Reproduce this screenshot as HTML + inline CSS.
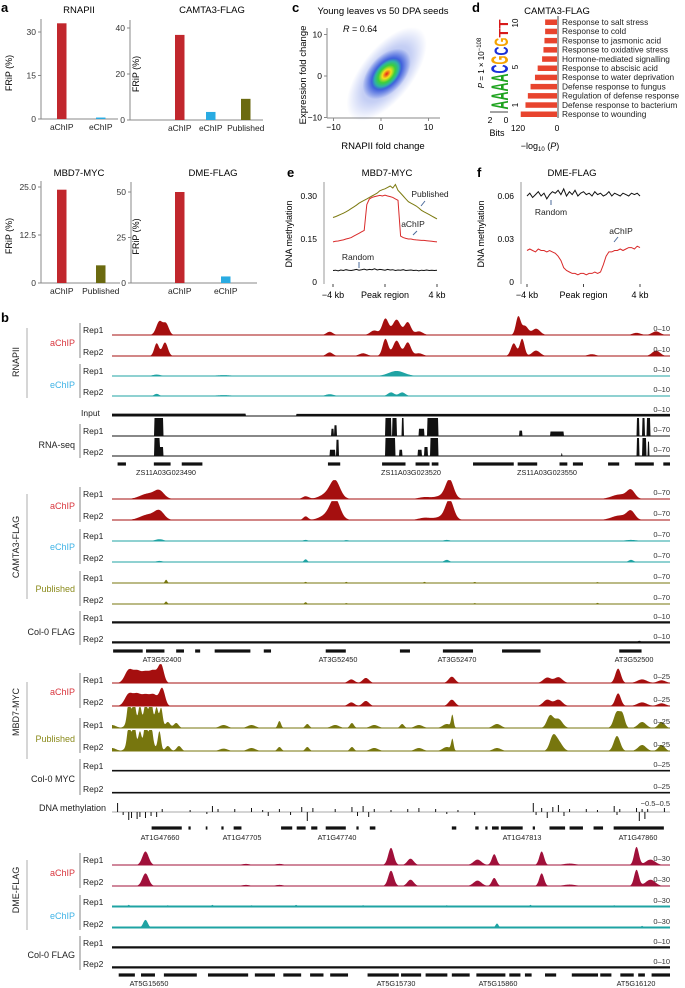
<!DOCTYPE html>
<html><head><meta charset="utf-8"><style>
html,body{margin:0;padding:0;background:#fff}
svg{display:block;font-family:"Liberation Sans",Arial,sans-serif}
</style></head><body>
<svg id="fig" width="685" height="988" viewBox="0 0 685 988" xmlns="http://www.w3.org/2000/svg">
<defs>
<radialGradient id="dens" cx="50%" cy="50%" r="50%">
<stop offset="0" stop-color="#e8201a"/><stop offset="0.18" stop-color="#f7e01b"/><stop offset="0.35" stop-color="#3ccf3c"/><stop offset="0.5" stop-color="#2fb1a8"/><stop offset="0.62" stop-color="#2a4fd8" stop-opacity="0.85"/><stop offset="1" stop-color="#2a4fd8" stop-opacity="0"/>
</radialGradient>
<radialGradient id="densOuter" cx="50%" cy="50%" r="50%">
<stop offset="0" stop-color="#2a4fd8" stop-opacity="0.7"/><stop offset="0.6" stop-color="#2a4fd8" stop-opacity="0.45"/><stop offset="1" stop-color="#2a4fd8" stop-opacity="0"/>
</radialGradient>
</defs>
<g font-weight="bold" font-size="13" fill="#000">
<text x="1" y="12">a</text>
<text x="292" y="12">c</text>
<text x="472" y="12">d</text>
<text x="287" y="177">e</text>
<text x="477" y="177">f</text>
<text x="1" y="322">b</text>
</g>
<g id="panelA"></g>
<g id="panelC">
<text x="383" y="14" font-size="9.5" text-anchor="middle">Young leaves vs 50 DPA seeds</text>
<text x="343" y="32" font-size="9"><tspan font-style="italic">R</tspan> = 0.64</text>
<text x="383" y="149" font-size="9.5" text-anchor="middle">RNAPII fold change</text>
<text transform="translate(306,75) rotate(-90)" font-size="9.5" text-anchor="middle">Expression fold change</text>
</g>
<g id="panelD">
<text x="557" y="14" font-size="9.5" text-anchor="middle">CAMTA3-FLAG</text>
<text transform="translate(484,63) rotate(-90)" font-size="8" text-anchor="middle"><tspan font-style="italic">P</tspan> = 1 × 10<tspan font-size="6" dy="-3">−108</tspan></text>
<text x="490" y="123" font-size="8.5" text-anchor="middle">2</text>
<text x="506" y="123" font-size="8.5" text-anchor="middle">0</text>
<text x="497" y="136" font-size="9" text-anchor="middle">Bits</text>
<text x="540" y="149" font-size="9" text-anchor="middle">−log<tspan font-size="6" dy="2">10</tspan><tspan dy="-2"> (</tspan><tspan font-style="italic">P</tspan>)</text>
</g>
<g id="panelE"></g>
<g id="panelF"></g>
<g id="panelB"></g>
</svg>
<script>
// ---------- DATA ----------
const barCatsRNAPII=["aChIP","eChIP"];const barValsRNAPII=[33,0.5];
const barCatsCAMTA=["aChIP","eChIP","Published"];const barValsCAMTA=[37,3.5,9.2];
const barCatsMBD7=["aChIP","Published"];const barValsMBD7=[24.3,4.6];
const barCatsDME=["aChIP","eChIP"];const barValsDME=[50,3.6];
const ticksRNAPII=[0,15,30];const ticksCAMTA=[0,20,40];const ticksMBD7=[0,12.5,25];const ticksDME=[0,25,50];
const tickLabMBD7=["0","12.5","25.0"];
const scatterTicks=[-10,0,10];
const goTerms=["Response to salt stress","Response to cold","Response to jasmonic acid","Response to oxidative stress","Hormone-mediated signalling","Response to abscisic acid","Response to water deprivation","Defense response to fungus","Regulation of defense response","Defense response to bacterium","Response to wounding"];
const goVals=[36.5,36.5,38.6,41.7,45.9,59.5,67.8,81.4,89.7,97,111.6];
const motifLetters=["A","A","A","A","C","G","C","G","T","T"];
const motifColors={A:"#1fa31f",C:"#1a2fd8",G:"#f5a300",T:"#d81a1a"};
const ePublished=[0.225,0.228,0.232,0.236,0.24,0.245,0.25,0.256,0.262,0.268,0.275,0.28,0.285,0.29,0.295,0.3,0.305,0.31,0.318,0.322,0.325,0.33,0.335,0.328,0.34,0.32,0.31,0.3,0.29,0.28,0.275,0.27,0.265,0.258,0.25,0.245,0.24,0.235,0.23,0.225,0.22];
const eAChIP=[0.14,0.142,0.143,0.145,0.147,0.15,0.152,0.155,0.16,0.165,0.17,0.175,0.18,0.27,0.29,0.295,0.298,0.3,0.302,0.3,0.303,0.3,0.298,0.295,0.29,0.285,0.16,0.155,0.152,0.15,0.15,0.148,0.147,0.146,0.145,0.145,0.144,0.143,0.142,0.141,0.14];
const eRandom=[0.04,0.041,0.039,0.042,0.04,0.043,0.041,0.04,0.042,0.044,0.041,0.043,0.045,0.042,0.044,0.043,0.046,0.042,0.044,0.043,0.041,0.044,0.042,0.043,0.04,0.042,0.041,0.043,0.04,0.041,0.042,0.04,0.041,0.039,0.041,0.04,0.042,0.04,0.041,0.04,0.041];
const fRandom=[0.06,0.062,0.059,0.061,0.063,0.06,0.062,0.058,0.061,0.063,0.062,0.064,0.061,0.065,0.06,0.063,0.061,0.064,0.06,0.062,0.063,0.061,0.062,0.06,0.063,0.061,0.062,0.06,0.061,0.063,0.06,0.062,0.061,0.06,0.062,0.061,0.06,0.062,0.061,0.062,0.06];
const fAChIP=[0.022,0.023,0.022,0.021,0.023,0.022,0.022,0.021,0.022,0.021,0.02,0.018,0.015,0.01,0.008,0.007,0.006,0.006,0.005,0.006,0.006,0.005,0.006,0.006,0.007,0.006,0.007,0.012,0.018,0.021,0.021,0.022,0.022,0.023,0.022,0.023,0.024,0.024,0.023,0.025,0.024];
const eTicks=[0,0.15,0.3];const eTickLab=["0","0.15","0.30"];
const fTicks=[0,0.03,0.06];const fTickLab=["0","0.03","0.06"];
const pkRnapA1=[[0.085,0.75,0.008],[0.097,0.6,0.007],[0.39,0.18,0.008],[0.47,0.25,0.01],[0.49,0.9,0.008],[0.51,0.85,0.01],[0.53,0.7,0.008],[0.55,0.2,0.01],[0.728,1,0.006],[0.74,0.5,0.008],[0.76,0.35,0.01],[0.94,0.12,0.01],[0.975,0.2,0.01]];
const pkRnapA2=[[0.08,0.7,0.006],[0.095,0.75,0.007],[0.39,0.2,0.008],[0.45,0.15,0.01],[0.49,0.95,0.007],[0.51,0.85,0.009],[0.53,0.75,0.008],[0.55,0.15,0.01],[0.72,0.7,0.007],[0.735,0.95,0.006],[0.76,0.3,0.01],[0.86,0.1,0.01],[0.975,0.3,0.01]];
const pkRnapE1=[[0.08,0.08,0.01],[0.51,0.28,0.02],[0.2,0.05,0.02]];
const pkRnapE2=[[0.08,0.12,0.006],[0.39,0.1,0.01],[0.5,0.2,0.008],[0.52,0.2,0.008],[0.2,0.05,0.02]];
const blkInput=[[0,0.24,0.13],[0.33,1,0.12]];
const blkRnaseq1=[[0.076,0.092,1],[0.393,0.397,0.4],[0.398,0.403,0.6],[0.49,0.5,1],[0.502,0.51,1],[0.519,0.523,1],[0.55,0.56,0.4],[0.565,0.585,1],[0.73,0.735,0.3],[0.785,0.81,0.25],[0.94,0.945,1],[0.95,0.955,1],[0.958,0.965,1]];
const blkRnaseq2=[[0.076,0.086,1],[0.086,0.092,0.5],[0.39,0.4,0.35],[0.402,0.406,0.9],[0.49,0.508,1],[0.515,0.52,0.35],[0.548,0.555,0.35],[0.56,0.566,0.5],[0.57,0.585,1],[0.805,0.807,0.15],[0.94,0.945,1],[0.95,0.957,1],[0.96,0.963,0.8]];
const genesRnap=[[0.01,0.025],[0.075,0.105],[0.125,0.162],[0.387,0.409],[0.484,0.526],[0.544,0.569],[0.573,0.585],[0.647,0.72],[0.727,0.762],[0.802,0.816],[0.826,0.844],[0.889,0.909],[0.937,0.971],[0.988,1]];
const pkCamA1=[[0.065,0.3,0.02],[0.085,0.4,0.012],[0.347,0.15,0.008],[0.39,0.35,0.02],[0.4,0.8,0.012],[0.56,0.1,0.015],[0.605,0.95,0.01],[0.595,0.2,0.02],[0.91,0.25,0.02],[0.93,0.45,0.01]];
const pkCamA2=[[0.065,0.3,0.02],[0.085,0.45,0.012],[0.347,0.2,0.006],[0.39,0.35,0.02],[0.4,0.95,0.012],[0.56,0.12,0.015],[0.605,1,0.01],[0.595,0.2,0.02],[0.91,0.25,0.02],[0.93,0.45,0.01]];
const pkCamE1=[[0.085,0.1,0.01],[0.347,0.06,0.006],[0.42,0.05,0.006],[0.6,0.06,0.008],[0.93,0.06,0.015]];
const pkCamE2=[[0.085,0.06,0.008],[0.347,0.15,0.004],[0.6,0.12,0.006],[0.93,0.12,0.006]];
const pkCamP1=[[0.097,0.18,0.003],[0.347,0.06,0.003],[0.42,0.06,0.003],[0.56,0.06,0.003],[0.65,0.06,0.003],[0.87,0.05,0.003]];
const pkCamP2=[[0.097,0.14,0.003],[0.347,0.1,0.003],[0.42,0.05,0.003],[0.65,0.05,0.003],[0.87,0.06,0.003]];
const blkCol=[[0,1,0.1]];
const pkCol1=[[0.07,0.06,0.01],[0.4,0.06,0.01],[0.93,0.08,0.01]];
const pkCol2=[[0.3,0.06,0.01],[0.45,0.06,0.01],[0.945,0.12,0.006]];
const genesCam=[[0.002,0.055],[0.061,0.094],[0.115,0.129],[0.149,0.158],[0.184,0.248],[0.272,0.285],[0.383,0.419],[0.516,0.534],[0.593,0.647],[0.699,0.768],[0.909,0.949]];
const pkMbdA1=[[0.03,0.7,0.01],[0.045,0.6,0.01],[0.06,0.55,0.01],[0.075,0.65,0.01],[0.088,0.95,0.007],[0.429,0.2,0.008],[0.455,0.28,0.008],[0.609,0.35,0.008],[0.78,0.3,0.01],[0.8,0.32,0.01],[0.907,0.8,0.007],[0.95,0.2,0.012],[0.985,0.15,0.01]];
const pkMbdA2=[[0.03,0.65,0.01],[0.045,0.6,0.01],[0.06,0.55,0.01],[0.075,0.6,0.01],[0.09,0.95,0.007],[0.429,0.2,0.008],[0.455,0.28,0.008],[0.609,0.35,0.008],[0.78,0.35,0.01],[0.8,0.35,0.01],[0.907,0.7,0.007],[0.95,0.2,0.012],[0.985,0.15,0.01]];
const pkMbdP1=[[0.035,0.6,0.01],[0.065,0.6,0.012],[0.03,0.9,0.004],[0.04,0.85,0.004],[0.05,0.95,0.004],[0.06,0.75,0.004],[0.07,0.95,0.004],[0.08,0.9,0.004],[0.088,0.98,0.004],[0.1,0.3,0.006],[0.115,0.25,0.006],[0.3,0.35,0.004],[0.35,0.2,0.005],[0.43,0.25,0.005],[0.52,0.2,0.005],[0.61,0.6,0.003],[0.6,0.2,0.01],[0.785,0.6,0.008],[0.8,0.45,0.01],[0.905,0.8,0.008],[0.915,0.6,0.006],[0.95,0.3,0.01],[0.985,0.3,0.008],[0.2,0.15,0.01],[0.25,0.15,0.01],[0.69,0.2,0.01],[0.55,0.15,0.01],[0.47,0.15,0.01],[0.4,0.15,0.01],[0.0,0.15,0.01]];
const pkMbdP2=[[0.035,0.6,0.01],[0.065,0.6,0.012],[0.03,0.85,0.004],[0.04,0.9,0.004],[0.05,0.8,0.004],[0.06,0.95,0.004],[0.07,0.85,0.004],[0.085,0.95,0.004],[0.1,0.25,0.006],[0.12,0.25,0.006],[0.3,0.2,0.005],[0.35,0.2,0.005],[0.43,0.2,0.005],[0.61,0.55,0.003],[0.6,0.2,0.01],[0.79,0.65,0.008],[0.8,0.45,0.01],[0.905,0.75,0.008],[0.95,0.3,0.01],[0.985,0.3,0.008],[0.2,0.12,0.01],[0.25,0.15,0.01],[0.69,0.15,0.01],[0.55,0.15,0.01],[0.47,0.15,0.01],[0.0,0.15,0.01]];
const blkColMyc=[[0,1,0.06]];
const methSpikes=[[0.01,0.9],[0.02,-0.3],[0.03,-0.8],[0.035,-0.6],[0.045,-0.7],[0.05,-0.5],[0.06,-0.6],[0.07,-0.4],[0.08,-0.5],[0.09,0.3],[0.14,0.2],[0.17,-0.2],[0.18,0.6],[0.19,0.3],[0.22,0.3],[0.25,0.4],[0.27,0.2],[0.28,-0.4],[0.3,0.3],[0.32,-0.3],[0.34,0.5],[0.35,-0.9],[0.36,0.4],[0.4,0.3],[0.43,0.5],[0.44,-0.4],[0.45,0.6],[0.46,-0.5],[0.47,0.3],[0.5,0.2],[0.53,0.3],[0.55,0.4],[0.58,0.3],[0.6,-0.2],[0.62,0.2],[0.65,-0.3],[0.755,0.9],[0.76,-0.3],[0.77,0.4],[0.78,-0.6],[0.79,0.5],[0.8,0.7],[0.81,-0.4],[0.82,0.3],[0.85,0.3],[0.87,0.2],[0.9,0.6],[0.905,-0.3],[0.91,0.3],[0.94,0.4],[0.945,-0.9],[0.95,0.3],[0.955,-0.7],[0.96,0.3],[0.99,0.4]];
const genesMbd=[[0.071,0.125],[0.137,0.141],[0.168,0.171],[0.196,0.2],[0.218,0.232],[0.303,0.323],[0.331,0.347],[0.357,0.368],[0.383,0.419],[0.438,0.442],[0.462,0.472],[0.609,0.617],[0.651,0.657],[0.669,0.673],[0.681,0.693],[0.697,0.736],[0.754,0.758],[0.784,0.812],[0.82,0.844],[0.863,0.88],[0.899,0.989]];
const pkDmeA1=[[0.06,0.75,0.008],[0.24,0.06,0.01],[0.3,0.06,0.01],[0.5,0.95,0.007],[0.535,0.35,0.008],[0.655,0.3,0.01],[0.685,0.6,0.006],[0.77,0.75,0.006],[0.82,0.08,0.015],[0.94,1,0.006],[0.965,0.3,0.012]];
const pkDmeA2=[[0.06,0.7,0.008],[0.24,0.06,0.01],[0.3,0.06,0.01],[0.5,0.85,0.007],[0.535,0.35,0.008],[0.655,0.3,0.01],[0.685,0.45,0.006],[0.77,0.7,0.006],[0.82,0.08,0.015],[0.94,0.9,0.006],[0.965,0.35,0.012]];
const pkDmeE1=[[0.03,0.12,0.003],[0.1,0.1,0.003],[0.18,0.12,0.003],[0.25,0.1,0.003],[0.33,0.12,0.003],[0.45,0.1,0.003],[0.6,0.1,0.003],[0.75,0.12,0.003],[0.9,0.1,0.003]];
const pkDmeE2=[[0.06,0.45,0.006],[0.03,0.08,0.003],[0.2,0.08,0.003],[0.35,0.08,0.003],[0.5,0.08,0.003],[0.69,0.25,0.004],[0.8,0.08,0.003],[0.95,0.12,0.003]];
const blkDmeE=[[0,1,0.08]];
const genesDme=[[0.012,0.041],[0.052,0.077],[0.093,0.152],[0.172,0.244],[0.256,0.292],[0.307,0.339],[0.355,0.379],[0.391,0.423],[0.458,0.514],[0.518,0.554],[0.562,0.601],[0.609,0.641],[0.653,0.705],[0.712,0.732],[0.74,0.752],[0.776,0.796],[0.824,0.871],[0.875,0.895],[0.911,0.935],[0.943,0.955],[0.967,1]];

// ---------- HELPERS ----------
const NS="http://www.w3.org/2000/svg";
function mk(parent,tag,attrs,txt){const el=document.createElementNS(NS,tag);for(const k in attrs)el.setAttribute(k,attrs[k]);if(txt!==undefined)el.textContent=txt;parent.appendChild(el);return el;}
const AX="#888";

// ---------- PANEL A ----------
const pA=document.getElementById('panelA');
function barChart(cfg,cats,vals,ticks,tickLabs){
  const g=mk(pA,'g',{});
  
  
  const y=v=>cfg.base-(v-ticks[0])/(ticks[ticks.length-1]-ticks[0])*(cfg.base-cfg.top);
  const t=mk(g,'text',{x:cfg.cx,y:cfg.ty,'font-size':9.5,'text-anchor':'middle'},cfg.title);
  
  
  const ya=mk(g,'line',{x1:cfg.ax,x2:cfg.ax,y1:cfg.atop,y2:cfg.base,stroke:AX,'stroke-width':1});
  
  
  const xa=mk(g,'line',{x1:cfg.ax,x2:cfg.xend,y1:cfg.base,y2:cfg.base,stroke:AX,'stroke-width':1});
  
  
  ticks.forEach((tv,i)=>{
    mk(g,'line',{x1:cfg.ax-3,x2:cfg.ax,y1:y(tv),y2:y(tv),stroke:AX});
    const tl=mk(g,'text',{x:cfg.ax-5,y:y(tv)+3,'font-size':8.5,'text-anchor':'end',fill:'#333'},tickLabs?tickLabs[i]:String(tv));
    
    
  });
  const yl=mk(g,'text',{transform:`translate(${cfg.ylx},${(cfg.atop+cfg.base)/2+4}) rotate(-90)`,'font-size':9,'text-anchor':'middle'},'FRiP (%)');
  
  
  cats.forEach((c,i)=>{
    const bx=cfg.bx[i];
    const col=c==='aChIP'?'#c1272d':(c==='eChIP'?'#29abe2':'#6b6a10');
    const r=mk(g,'rect',{x:bx,y:y(vals[i]),width:9.5,height:cfg.base-y(vals[i]),fill:col});
    
    
    const xl=mk(g,'text',{x:bx+4.75,y:cfg.base+11,'font-size':8.5,'text-anchor':'middle',fill:'#222'},c);
    
    
  });
}
barChart({id:'rnapii',title:'RNAPII',cx:79,ty:13,ax:41,atop:19,base:119,top:32,xend:118,ylx:12,bx:[57,96]},barCatsRNAPII,barValsRNAPII,ticksRNAPII);
barChart({id:'camta3',title:'CAMTA3-FLAG',cx:212,ty:13,ax:130,atop:20,base:120,top:28,xend:263,ylx:139,bx:[175,206,241]},barCatsCAMTA,barValsCAMTA,ticksCAMTA);
barChart({id:'mbd7',title:'MBD7-MYC',cx:79,ty:176,ax:41,atop:181,base:283,top:187,xend:120,ylx:12,bx:[57,96]},barCatsMBD7,barValsMBD7,ticksMBD7,tickLabMBD7);
barChart({id:'dme',title:'DME-FLAG',cx:213,ty:176,ax:131,atop:182,base:283,top:192,xend:257,ylx:139,bx:[175,221]},barCatsDME,barValsDME,ticksDME);

// ---------- PANEL C ----------
const pC=document.getElementById('panelC');
const sx=v=>381+v*4.75, sy=v=>76-v*4.15;
{
  const ya=mk(pC,'line',{x1:327,x2:327,y1:28,y2:118,stroke:AX});
  
  
  const xa=mk(pC,'line',{x1:327,x2:440,y1:118,y2:118,stroke:AX});
  
  
  scatterTicks.forEach(t=>{
    mk(pC,'line',{x1:sx(t),x2:sx(t),y1:118,y2:121,stroke:AX});
    const a=mk(pC,'text',{x:sx(t),y:130,'font-size':8.5,'text-anchor':'middle'},t<0?'−'+Math.abs(t):String(t));
    
    
    mk(pC,'line',{x1:324,x2:327,y1:sy(t),y2:sy(t),stroke:AX});
    const b=mk(pC,'text',{x:322,y:sy(t)+3,'font-size':8.5,'text-anchor':'end'},t<0?'−'+Math.abs(t):String(t));
    
    
  });
  const cx=sx(1.2),cy=sy(0.5);
  const e1=mk(pC,'ellipse',{cx:cx,cy:cy,rx:56,ry:26,fill:'url(#densOuter)',transform:`rotate(-52 ${cx} ${cy})`,opacity:0.6});
  
  
  const e2=mk(pC,'ellipse',{cx:cx,cy:cy,rx:30,ry:18,fill:'url(#dens)',transform:`rotate(-48 ${cx} ${cy})`});
  
  
}

// ---------- PANEL D ----------
const pD=document.getElementById('panelD');
{
  const gx=v=>557-v*(39/120);
  goVals.forEach((v,i)=>{
    const yy=22+i*9.2;
    const r=mk(pD,'rect',{x:gx(v),y:yy-2.5,width:557-gx(v),height:5.5,fill:'#e8442e'});
    
    
    const t=mk(pD,'text',{x:562,y:yy+3,'font-size':8.3,fill:'#222'},goTerms[i]);
    
    
  });
  const ax=mk(pD,'line',{x1:558,x2:558,y1:16,y2:118,stroke:'#444'});
  
  
  [[120,'120'],[0,'0']].forEach(([v,l])=>{
    const t=mk(pD,'text',{x:gx(v),y:131,'font-size':8.5,'text-anchor':'middle'},l);
    
    
  });
  motifLetters.forEach((L,i)=>{
    const yc=105-i*9;
    const big=i<6?1:(i<8?0.8:0.55);
    const t=mk(pD,'text',{transform:`translate(${508},${yc+4.5}) rotate(-90)`,'font-size':24*big,'font-weight':'bold',fill:motifColors[L],textLength:9,lengthAdjust:'spacingAndGlyphs'},L);
    
    
  });
  [[1,105],[5,67],[10,23]].forEach(([n,yy])=>{
    const t=mk(pD,'text',{transform:`translate(518,${yy}) rotate(-90)`,'font-size':8,'text-anchor':'middle'},String(n));
    
    
  });
  mk(pD,'line',{x1:490,x2:508,y1:112,y2:112,stroke:'#444'});
}

// ---------- PANELS E / F ----------
function linePanel(gid,cfg,series,ticks,tickLabs){
  const g=document.getElementById(gid);
  const X=i=>cfg.x0+(cfg.x1-cfg.x0)*i/40, Y=v=>cfg.base-v*cfg.k;
  const t=mk(g,'text',{x:cfg.cx,y:176,'font-size':9.5,'text-anchor':'middle'},cfg.title);
  
  
  const ya=mk(g,'line',{x1:cfg.ax,x2:cfg.ax,y1:182,y2:284,stroke:'#bbb','stroke-width':1.5});
  
  
  ticks.forEach((tv,i)=>{
    const l=mk(g,'text',{x:cfg.ax-7,y:Y(tv)+3,'font-size':8.5,'text-anchor':'end'},tickLabs[i]);
    
    
  });
  [['−4 kb',cfg.x0],['Peak region',(cfg.x0+cfg.x1)/2],['4 kb',cfg.x1]].forEach(([s,x])=>{
    mk(g,'line',{x1:x,x2:x,y1:284,y2:287,stroke:'#444'});
    const l=mk(g,'text',{x:x,y:298,'font-size':9,'text-anchor':'middle'},s);
    
    
  });
  if(cfg.ylab){const l=mk(g,'text',{transform:`translate(${cfg.ylab},234) rotate(-90)`,'font-size':9,'text-anchor':'middle'},'DNA methylation');
    
    }
  series.forEach(s=>{
    const p=mk(g,'path',{d:s.vals.map((v,i)=>(i?'L':'M')+X(i).toFixed(1)+','+Y(v).toFixed(1)).join(''),fill:'none',stroke:s.col,'stroke-width':1});
    
    
  });
  cfg.notes.forEach(([s,x,y,ax1,ay1,ax2,ay2])=>{
    const l=mk(g,'text',{x:x,y:y,'font-size':8.5,'text-anchor':'middle',fill:'#222'},s);
    
    
    mk(g,'line',{x1:ax1,y1:ay1,x2:ax2,y2:ay2,stroke:'#4a6a9a','stroke-width':1});
  });
}
linePanel('panelE',{title:'MBD7-MYC',cx:387,x0:333,x1:437,base:282,k:286.7,ax:324,ylab:292,
  notes:[['Published',430,197,425,201,421,206],['aChIP',413,227,417,231,413,235],['Random',358,260,359,262,359,268]]},
  [{vals:ePublished,col:'#7c7a10',name:'line-published'},{vals:eAChIP,col:'#d92a2a',name:'line-achip'},{vals:eRandom,col:'#111',name:'line-random'}],eTicks,eTickLab);
linePanel('panelF',{title:'DME-FLAG',cx:572,x0:527,x1:640,base:282,k:1433,ax:521,ylab:484,
  notes:[['Random',551,215,551,205,551,200],['aChIP',621,234,618,237,614,242]]},
  [{vals:fRandom,col:'#111',name:'line-random'},{vals:fAChIP,col:'#d92a2a',name:'line-achip'}],fTicks,fTickLab);

// ---------- PANEL B ----------
const pB=document.getElementById('panelB');
const X0=112,X1=670,TX=f=>X0+(X1-X0)*f;
function profile(peaks,blocks,f){let v=0;(peaks||[]).forEach(p=>{v+=p[1]*Math.exp(-Math.pow((f-p[0])/p[2],2));});(blocks||[]).forEach(b=>{if(f>=b[0]&&f<=b[1])v=Math.max(v,b[2]);});return Math.min(v,1.05);}
function track(name,base,col,peaks,blocks,range,H){
  H=H||18;
  const g=mk(pB,'g',{});
  
  
  let d='M'+X0+','+base;
  for(let x=X0;x<=X1;x+=0.5){const v=profile(peaks,blocks,(x-X0)/(X1-X0));d+='L'+x+','+(base-v*H).toFixed(2);}
  d+='L'+X1+','+base+'Z';
  mk(g,'path',{d:d,fill:col,stroke:'none'});
  mk(g,'line',{x1:X0,x2:X1,y1:base,y2:base,stroke:col,'stroke-width':1.1});
  const r=mk(g,'text',{x:X1,y:base-4,'font-size':7.5,'text-anchor':'end',fill:'#333'},range);
  
  
}
function genes(name,y,segs,labels){
  const g=mk(pB,'g',{});
  
  
  segs.forEach(s=>{mk(g,'rect',{x:TX(s[0]),y:y-1.6,width:Math.max(1,TX(s[1])-TX(s[0])),height:3.2,fill:'#111'});});
  labels.forEach(([t,x,ly])=>{const l=mk(g,'text',{x:x,y:ly,'font-size':7.3,'text-anchor':'middle',fill:'#222'},t);
    
    });
}
function label(txt,x,y,col,anchor,size,name){const l=mk(pB,'text',{x:x,y:y,'font-size':size||8.5,'text-anchor':anchor||'start',fill:col||'#222'},txt);
  
  return l;}
function vline(x,y1,y2,col){mk(pB,'line',{x1:x,x2:x,y1:y1,y2:y2,stroke:col||'#999','stroke-width':0.8});}
function vgroup(txt,cy,y1,y2){const l=mk(pB,'text',{transform:`translate(19,${cy}) rotate(-90)`,'font-size':9,'text-anchor':'middle',fill:'#222'},txt);
  
  vline(27,y1,y2);}
function reps(b1,b2){label('Rep1',83,b1-2);label('Rep2',83,b2-1);vline(80,b1-12,b2+2,'#666');}
const RED='#a50f0f',TEAL='#1fa3a3',OLIVE='#77760e',BLK='#111',CRIM='#a0103a';
vgroup('RNAPII',362,328,398);
track('rnapii-achip-rep1',335,RED,pkRnapA1,null,'0–10');track('rnapii-achip-rep2',356,RED,pkRnapA2,null,'0–10');
track('rnapii-echip-rep1',376,TEAL,pkRnapE1,null,'0–10');track('rnapii-echip-rep2',396,TEAL,pkRnapE2,null,'0–10');
track('rnapii-input',416,BLK,null,blkInput,'0–10');
track('rnaseq-rep1',436,BLK,null,blkRnaseq1,'0–70');track('rnaseq-rep2',456,BLK,null,blkRnaseq2,'0–70');
label('aChIP',75,346,'#d9363e','end',9);reps(335,356);
label('eChIP',75,388,'#3fb3e6','end',9);reps(376,396);
label('Input',81,416);label('RNA-seq',75,448,'#222','end',9);reps(436,456);
genes('rnapii-gene-models',464,genesRnap,[['ZS11A03G023490',166,475],['ZS11A03G023520',411,475],['ZS11A03G023550',547,475]]);
vgroup('CAMTA3-FLAG',547,494,599);
track('camta3-achip-rep1',499,RED,pkCamA1,null,'0–70');track('camta3-achip-rep2',520,RED,pkCamA2,null,'0–70');
track('camta3-echip-rep1',541,TEAL,pkCamE1,null,'0–70');track('camta3-echip-rep2',562,TEAL,pkCamE2,null,'0–70');
track('camta3-published-rep1',583,OLIVE,pkCamP1,null,'0–70');track('camta3-published-rep2',604,OLIVE,pkCamP2,null,'0–70');
track('camta3-col0-rep1',623,BLK,pkCol1,blkCol,'0–10');track('camta3-col0-rep2',643,BLK,pkCol2,blkCol,'0–10');
label('aChIP',75,509,'#d9363e','end',9);reps(499,520);
label('eChIP',75,550,'#3fb3e6','end',9);reps(541,562);
label('Published',75,592,'#8a8a1a','end',9);reps(583,604);
label('Col-0 FLAG',75,635,'#222','end',9);reps(623,643);
genes('camta3-gene-models',651,genesCam,[['AT3G52400',162,662],['AT3G52450',338,662],['AT3G52470',457,662],['AT3G52500',634,662]]);
vgroup('MBD7-MYC',712,682,759);
track('mbd7-achip-rep1',683,RED,pkMbdA1,null,'0–25');track('mbd7-achip-rep2',706,RED,pkMbdA2,null,'0–25');
track('mbd7-published-rep1',728,OLIVE,pkMbdP1,null,'0–25',20);track('mbd7-published-rep2',751,OLIVE,pkMbdP2,null,'0–25',20);
track('col0-myc-rep1',771,BLK,null,blkColMyc,'0–25');track('col0-myc-rep2',793,BLK,null,blkColMyc,'0–25');
label('aChIP',75,695,'#d9363e','end',9);reps(685,706);
label('Published',75,742,'#8a8a1a','end',9);reps(730,751);
label('Col-0 MYC',75,782,'#222','end',9);reps(771,793);
label('DNA methylation',106,811,'#222','end',9);
{
  const g=mk(pB,'g',{});
  
  
  mk(g,'line',{x1:X0,x2:X1,y1:812,y2:812,stroke:'#aaa','stroke-width':1});
  methSpikes.forEach(s=>{mk(g,'line',{x1:TX(s[0]),x2:TX(s[0]),y1:812,y2:812-s[1]*10,stroke:'#111','stroke-width':1});});
  const r=mk(g,'text',{x:X1,y:806,'font-size':7.5,'text-anchor':'end',fill:'#333'},'−0.5–0.5');
  
  
}
genes('mbd7-gene-models',828,genesMbd,[['AT1G47660',160,840],['AT1G47705',242,840],['AT1G47740',337,840],['AT1G47813',522,840],['AT1G47860',638,840]]);
vgroup('DME-FLAG',890,860,930);
track('dme-achip-rep1',865,CRIM,pkDmeA1,null,'0–30');track('dme-achip-rep2',886,CRIM,pkDmeA2,null,'0–30');
track('dme-echip-rep1',907,TEAL,pkDmeE1,blkDmeE,'0–30');track('dme-echip-rep2',928,TEAL,pkDmeE2,blkDmeE,'0–30');
track('dme-col0-rep1',948,BLK,null,blkCol,'0–10');track('dme-col0-rep2',968,BLK,null,blkCol,'0–10');
label('aChIP',75,876,'#d9363e','end',9);reps(865,886);
label('eChIP',75,919,'#3fb3e6','end',9);reps(907,928);
label('Col-0 FLAG',75,958,'#222','end',9);reps(948,968);
genes('dme-gene-models',975,genesDme,[['AT5G15650',149,986],['AT5G15730',396,986],['AT5G15860',498,986],['AT5G16120',636,986]]);
</script>
</body></html>
